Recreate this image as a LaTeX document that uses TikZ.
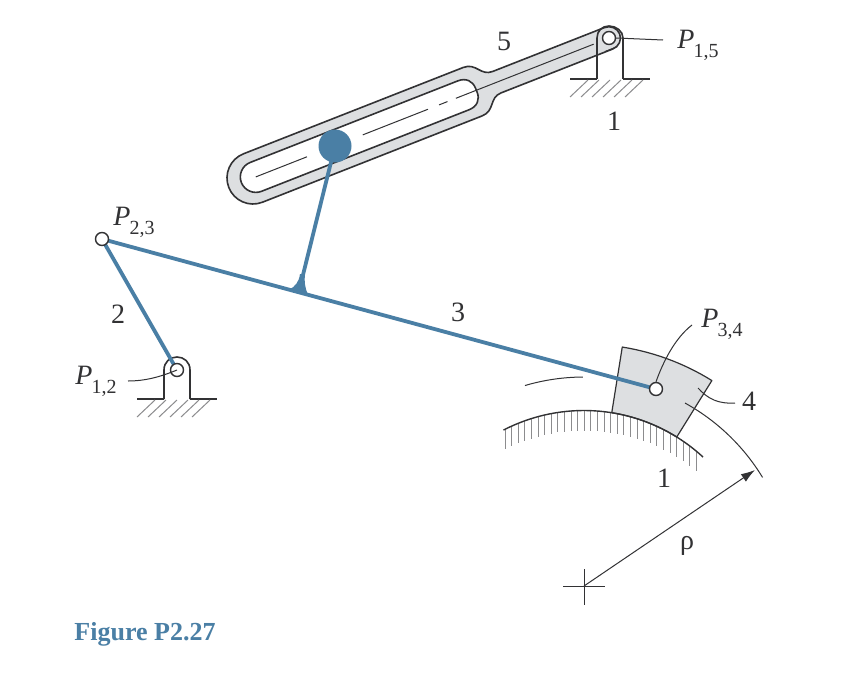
\documentclass[tikz,border=0pt]{standalone}
\usepackage{fontspec}
\usepackage{graphicx}
\usetikzlibrary{arrows.meta}
\setmainfont{Liberation Serif}
\definecolor{linkblue}{RGB}{74,127,165}
\definecolor{partgray}{RGB}{221,223,225}
\definecolor{inkc}{RGB}{50,50,52}
\definecolor{hatchc}{RGB}{140,140,142}
\newcommand{\PP}[1]{\textit{P}\kern-0.5pt\raisebox{-0.7ex}{\fontsize{10}{10}\selectfont #1}}
\tikzset{
  ink/.style={draw=inkc,line width=0.8pt},
  thinink/.style={draw=inkc,line width=0.5pt},
  hatchline/.style={draw=hatchc,line width=0.5pt},
  bluelink/.style={draw=linkblue,line width=1.9pt},
  pin/.style={circle,draw=inkc,fill=white,line width=0.7pt,minimum size=6.5pt,inner sep=0pt},
  lab/.style={inner sep=0pt,text=inkc,font=\fontsize{14}{14}\selectfont},
}
\begin{document}
\begin{tikzpicture}[x=0.5pt,y=-0.5pt,line join=round]
\useasboundingbox[fill=white] (0,0) rectangle (862,680);
\def\cx{584}\def\cy{586}
% named points
\coordinate (P12c) at (177,370);
\coordinate (P23c) at (102,239);
\coordinate (P34c) at (656,389);
\coordinate (P15c) at (609,38);
\coordinate (ballc) at (335,146);
\coordinate (rodfoot) at (299,291);
\coordinate (center) at (\cx,\cy);
% slotted link 5
\begin{scope}[shift={(253,178)},rotate=21.45]
  \draw[ink,fill=partgray]
    (0,-26) -- (236,-26) .. controls (250,-26) and (249,-11.5) .. (262,-11.5)
    -- (382,-11.5) .. controls (388.5,-11.5) and (394,-6.5) .. (394,0)
    .. controls (394,6.5) and (388.5,11.5) .. (382,11.5)
    -- (262,11.5) .. controls (249,11.5) and (250,26) .. (236,26)
    -- (0,26) .. controls (-14.4,26) and (-26,14.4) .. (-26,0)
    .. controls (-26,-14.4) and (-14.4,-26) .. (0,-26) -- cycle;
  \draw[ink,fill=white]
    (3,-15.5) -- (226,-15.5) .. controls (235,-15.5) and (240,-10) .. (240,-2)
    -- (240,2) .. controls (240,10) and (235,15.5) .. (226,15.5)
    -- (3,15.5) .. controls (-5.5,15.5) and (-12.5,8.5) .. (-12.5,0)
    .. controls (-12.5,-8.5) and (-5.5,-15.5) .. (3,-15.5) -- cycle;
  \draw[thinink] (3,0) -- (58,0);
  \draw[thinink] (118,0) -- (188,0);
  \draw[thinink] (200,0) -- (209,0);
  \draw[thinink] (218,0) -- (366,0);
  \draw[thinink] (374,11) -- (387,11);
\end{scope}
% ground pivots
\draw[ink] (164,399) -- (164,370) .. controls (164,362) and (170,357) .. (177,357)
   .. controls (184,357) and (190,362) .. (190,370) -- (190,399);
\draw[ink] (137,399) -- (164,399) (190,399) -- (217,399);
\foreach \x in {137,148,...,199} \draw[hatchline] (\x,417) -- (\x+18,400);
\draw[ink] (597,79) -- (597,38) (623,79) -- (623,38);
\draw[ink] (570,79) -- (597,79) (623,79) -- (650,79);
\foreach \x in {570,581,...,632} \draw[hatchline] (\x,97) -- (\x+18,80);
\draw[ink] (597,38) .. controls (597,31) and (602,26) .. (609,26)
   .. controls (616,26) and (623,31) .. (623,38);
% curved ground
\foreach \x in {505,511.6,...,702}{
  \pgfmathsetmacro{\ytop}{\cy-175.5*cos(asin((\x-\cx)/175.5))}
  \draw[hatchline] (\x,\ytop) -- (\x,\ytop+20);
}
% block 4
\draw[ink,fill=partgray,line width=0.6pt]
  plot[domain=80.9:58.1,samples=16] ({\cx+242*cos(\x)},{\cy-242*sin(\x)})
  -- plot[domain=58.1:80.9,samples=16] ({\cx+175.5*cos(\x)},{\cy-175.5*sin(\x)}) -- cycle;
\draw[ink,line width=0.7pt] plot[domain=117.3:47.3,samples=40] ({\cx+175.5*cos(\x)},{\cy-175.5*sin(\x)});
% path-of-centre arc
\draw[thinink] plot[domain=106.4:90.3,samples=12] ({\cx+209*cos(\x)},{\cy-209*sin(\x)});
\draw[thinink] plot[domain=61.1:31.3,samples=24] ({\cx+209*cos(\x)},{\cy-209*sin(\x)});
% blue links
\draw[bluelink] (P23c) -- (P12c);
\draw[bluelink] (P23c) -- (P34c);
\draw[bluelink] (ballc) -- (rodfoot);
\fill[linkblue] (289,289.5) .. controls (295,287) and (299,282) .. (300,274)
  -- (305,274) .. controls (304,281) and (305,288) .. (308,295) -- cycle;
\node[circle,fill=linkblue,minimum size=16.5pt,inner sep=0pt] (ball) at (ballc) {};
% pins
\node[pin] (P12) at (P12c) {};
\node[pin] (P23) at (P23c) {};
\node[pin] (P34) at (P34c) {};
\node[pin] (P15) at (P15c) {};
% labels
\node[lab] (L12) at (96,381) {\PP{1,2}};
\node[lab] (L23) at (134,222) {\PP{2,3}};
\node[lab] (L34) at (722,324) {\PP{3,4}};
\node[lab] (L15) at (698,45) {\PP{1,5}};
\node[lab] (n2) at (118,314) {2};
\node[lab] (n3) at (458,312) {3};
\node[lab] (n4) at (749,401) {4};
\node[lab] (n5) at (504,41) {5};
\node[lab] (n1a) at (614,121) {1};
\node[lab] (n1b) at (664,478) {1};
\node[lab] (rho) at (687,546) {ρ};
\node[inner sep=0pt,text=linkblue,font=\fontsize{13}{13}\selectfont\bfseries] (fig) at (145,634) {Figure P2.27};
% leaders
\coordinate (l12s) at (128,381);
\coordinate (l34s) at (692,325);
\coordinate (l4s) at (735,403);
\coordinate (l4e) at (698,388);
\coordinate (l15s) at (663,40);
\draw[thinink] (l12s) .. controls (145,381) and (160,377) .. (P12.center);
\draw[thinink] (l34s) .. controls (675,338) and (663,362) .. (P34.north);
\draw[thinink] (l4s) .. controls (718,404) and (708,399) .. (l4e);
\draw[thinink] (l15s) -- (P15.east);
% radius
\draw[thinink] (563,586) -- (605,586) (584,569) -- (584,605);
\draw[thinink,-{Latex[length=7pt,width=4.5pt]}] (center) -- (755,470);
\end{tikzpicture}
\end{document}
